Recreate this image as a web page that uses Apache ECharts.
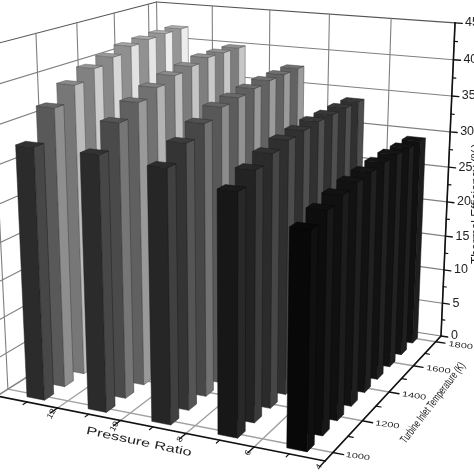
<!DOCTYPE html>
<html><head><meta charset="utf-8">
<style>html,body{margin:0;padding:0;background:#fff;overflow:hidden}#c{width:474px;height:474px;filter:blur(0.55px)}</style>
<script src="https://cdn.jsdelivr.net/npm/echarts@6/dist/echarts.min.js"></script>
</head><body><div id="c"></div>
<script>
// ---- data ----
const pressureRatios = [12, 10, 8, 6, 4];
const turbineTemps = [1000, 1100, 1200, 1300, 1400, 1500, 1600, 1700, 1800];
const efficiency12 = [33.2, 37.1, 39.1, 40.4, 41.1, 41.8, 42.0, 42.1, 42.1];
const efficiency10 = [33.2, 36.1, 37.7, 38.7, 39.4, 39.8, 40.2, 40.1, 40.0];
const efficiency8  = [32.6, 34.5, 35.9, 37.0, 37.3, 37.6, 37.8, 37.8, 37.8];
const efficiency6  = [30.8, 32.2, 33.1, 33.7, 33.9, 34.1, 34.0, 34.0, 33.9];
const efficiency4  = [27.4, 28.4, 29.0, 29.4, 29.5, 29.6, 29.6, 29.4, 29.3];
const efficiencyRows = [efficiency12, efficiency10, efficiency8, efficiency6, efficiency4];
const pTicks = [4, 6, 8, 10, 12];
const pMinor = [5, 7, 9, 11, 13];
const tTicks = [1000, 1200, 1400, 1600, 1800];
const tMinor = [1100, 1300, 1500, 1700];
const zTicks = [0, 5, 10, 15, 20, 25, 30, 35, 40, 45];
const zMinor = [2.5, 7.5, 12.5, 17.5, 22.5, 27.5, 32.5, 37.5, 42.5];

// ---- 3D scale: perspective map of (pressure, temperature, value) ----
const P0 = 4, P1 = 14, T0 = 950, T1 = 1850;
const corners = [[325, 461], [-3, 396], [161, 292], [441, 336]];
const vp = [233, 4970], topRatio = -0.0633, zMax = 45;
const H = (function () {
  const [[x0, y0], [x1, y1], [x2, y2], [x3, y3]] = corners;
  const dx1 = x1 - x2, dx2 = x3 - x2, sx = x0 - x1 + x2 - x3;
  const dy1 = y1 - y2, dy2 = y3 - y2, sy = y0 - y1 + y2 - y3;
  const det = dx1 * dy2 - dx2 * dy1;
  const g = (sx * dy2 - dx2 * sy) / det, h = (dx1 * sy - sx * dy1) / det;
  return { a: x1 - x0 + g * x1, b: x3 - x0 + h * x3, c: x0, d: y1 - y0 + g * y1, e: y3 - y0 + h * y3, f: y0, g, h };
})();
const kz = topRatio * (H.h + 1) / zMax;
function proj(p, T, z) {
  const u = (p - P0) / (P1 - P0), v = (T - T0) / (T1 - T0);
  const k = kz * z;
  const w = H.g * u + H.h * v + 1 + k;
  return [(H.a * u + H.b * v + H.c + vp[0] * k) / w, (H.d * u + H.e * v + H.f + vp[1] * k) / w];
}

// ---- line sets ----
const lines = [];
function seg(a, b, color, width) { lines.push([a[0], a[1], a[2], b[0], b[1], b[2], color, width]); }
const GRID = '#7f7f7f', FLOOR = '#a0a0a0', AX = '#111';
zTicks.forEach(function (z) {
  if (z === 0) return;
  seg([P1, T0, z], [P1, T1, z], z === 45 ? '#555' : GRID, 1.1);
  seg([P1, T1, z], [P0, T1, z], z === 45 ? '#555' : GRID, 1.1);
});
pTicks.concat([P1]).forEach(function (p) {
  seg([p, T1, 0], [p, T1, zMax], GRID, 1.1);
  seg([p, T0, 0], [p, T1, 0], FLOOR, 1.4);
});
tTicks.forEach(function (T) {
  seg([P1, T, 0], [P1, T, zMax], GRID, 1.1);
  seg([P0, T, 0], [P1, T, 0], FLOOR, 1.4);
});
seg([P1, T0, 0], [P1, T0, zMax], GRID, 1.1);
seg([P1, T0, 0], [P1, T1, 0], GRID, 1.1);
seg([P0, T1, 0], [P1, T1, 0], GRID, 1.1);

const axisLines = [];
function aseg(a, b, width) { axisLines.push([a[0], a[1], a[2], b[0], b[1], b[2], AX, width]); }
aseg([P0, T0, 0], [P1, T0, 0], 1.6);
aseg([P0, T0, 0], [P0, T1, 0], 1.6);
aseg([P0, T1, 0], [P0, T1, zMax], 1.6);
pTicks.forEach(function (p) { aseg([p, T0, 0], [p, T0 - 35, 0], 1.4); });
pMinor.forEach(function (p) { aseg([p, T0, 0], [p, T0 - 18, 0], 1.2); });
tTicks.forEach(function (T) { aseg([P0, T, 0], [P0 - 0.3, T, 0], 1.4); });
tMinor.forEach(function (T) { aseg([P0, T, 0], [P0 - 0.15, T, 0], 1.2); });
zTicks.forEach(function (z) { aseg([P0, T1, z], [P0 - 0.22, T1, z], 1.4); });
zMinor.forEach(function (z) { aseg([P0, T1, z], [P0 - 0.1, T1, z], 1.2); });

// ---- bars ----
const barData = [];
pressureRatios.forEach(function (p, i) {
  turbineTemps.slice().reverse().forEach(function (T) {
    barData.push([p, T, efficiencyRows[i][turbineTemps.indexOf(T)]]);
  });
});
const BAR_P0 = 0.62, BAR_PW = 0.58, BAR_TH = 22, BAR_TSPACE = 0.98;
const grayStops = [[27, 6], [29.5, 18], [31, 24], [33, 42], [34.5, 52], [36, 72], [37, 88], [38, 100], [39, 118], [40, 125], [42, 145]];
function baseGray(z) {
  if (z <= grayStops[0][0]) return grayStops[0][1];
  for (let i = 1; i < grayStops.length; i++) {
    if (z <= grayStops[i][0]) {
      const a = grayStops[i - 1], b = grayStops[i];
      return a[1] + (b[1] - a[1]) * (z - a[0]) / (b[0] - a[0]);
    }
  }
  return 150;
}
function g(v) { v = Math.max(0, Math.min(255, Math.round(v))); return 'rgb(' + v + ',' + v + ',' + v + ')'; }
function renderBar(params, api) {
  const p = api.value(0), z = api.value(2);
  const T = 1000 + (api.value(1) - 1000) * BAR_TSPACE;
  const a = p + BAR_P0, b = a + BAR_PW, t0 = T - BAR_TH, t1 = T + BAR_TH;
  const c = baseGray(z);
  const poly = function (pts, fill) {
    return { type: 'polygon', silent: true, shape: { points: pts }, style: { fill: fill, stroke: g(c * 0.7), lineWidth: 0.5 } };
  };
  return {
    type: 'group', children: [
      poly([proj(b, t0, 0), proj(a, t0, 0), proj(a, t0, z), proj(b, t0, z)], g(c)),
      poly([proj(a, t0, 0), proj(a, t1, 0), proj(a, t1, z), proj(a, t0, z)], g(c * 1.55 + 4)),
      poly([proj(a, t0, z), proj(a, t1, z), proj(b, t1, z), proj(b, t0, z)], g(c * 1.15))
    ]
  };
}
function renderLine(params, api) {
  const A = proj(api.value(0), api.value(1), api.value(2));
  const B = proj(api.value(3), api.value(4), api.value(5));
  const d = (params.seriesIndex === 0 ? lines : axisLines)[params.dataIndex];
  return { type: 'line', silent: true, shape: { x1: A[0], y1: A[1], x2: B[0], y2: B[1] }, style: { stroke: d[6], lineWidth: d[7], lineCap: 'round' } };
}

// ---- text ----
const deg = Math.PI / 180;
const texts = [];
function txt(s, pt, dx, dy, rot, size, sx, sy, align) { texts.push({ s, x: pt[0] + dx, y: pt[1] + dy, rot: rot * deg, size, sx, sy, align: align || 'center' }); }
pTicks.forEach(function (p) { txt(String(p), proj(p, T0, 0), -6, 6, 60, 9, 1, 0.9); });
tTicks.forEach(function (T) { txt(String(T), proj(P0, T, 0), 25, 4, -8, 10, 1.1, 0.75); });
zTicks.forEach(function (z) { txt(String(z), proj(P0, T1, z), 10, 0, 0, 12.5, 1, 1, 'left'); });
texts.push({ s: 'Pressure Ratio', x: 139, y: 442, rot: -12 * deg, size: 13, sx: 1.25, sy: 0.85, align: 'center' });
texts.push({ s: 'Turbine Inlet Temperature (K)', x: 433, y: 403, rot: 52.5 * deg, size: 12, sx: 0.63, sy: 0.95, align: 'center' });
function renderText(params) {
  const t = texts[params.dataIndex];
  return { type: 'text', silent: true, x: t.x, y: t.y, rotation: t.rot, scaleX: t.sx, scaleY: t.sy,
    style: { text: t.s, fill: '#222', font: t.size + 'px "Liberation Sans", Arial, sans-serif', align: t.align, verticalAlign: 'middle' } };
}

const chart = echarts.init(document.getElementById('c'), null, { renderer: 'canvas', width: 474, height: 474 });
chart.setOption({
  animation: false,
  backgroundColor: '#fff',
  graphic: [{ type: 'text', x: 471, y: 264, rotation: Math.PI / 2, silent: true,
    style: { text: 'Thermal Efficiency (%)', fill: '#222', font: '12px "Liberation Sans", Arial, sans-serif', align: 'left', verticalAlign: 'top' } }],
  series: [
    { type: 'custom', coordinateSystem: 'none', renderItem: renderLine, data: lines.map(function (d) { return d.slice(0, 6); }), silent: true, z: 1 },
    { type: 'custom', coordinateSystem: 'none', renderItem: renderLine, data: axisLines.map(function (d) { return d.slice(0, 6); }), silent: true, z: 2 },
    { type: 'custom', coordinateSystem: 'none', renderItem: renderBar, data: barData, silent: true, z: 3 },
    { type: 'custom', coordinateSystem: 'none', renderItem: renderText, data: texts.map(function (t) { return [t.x, t.y]; }), silent: true, z: 4 }
  ]
});
</script></body></html>
